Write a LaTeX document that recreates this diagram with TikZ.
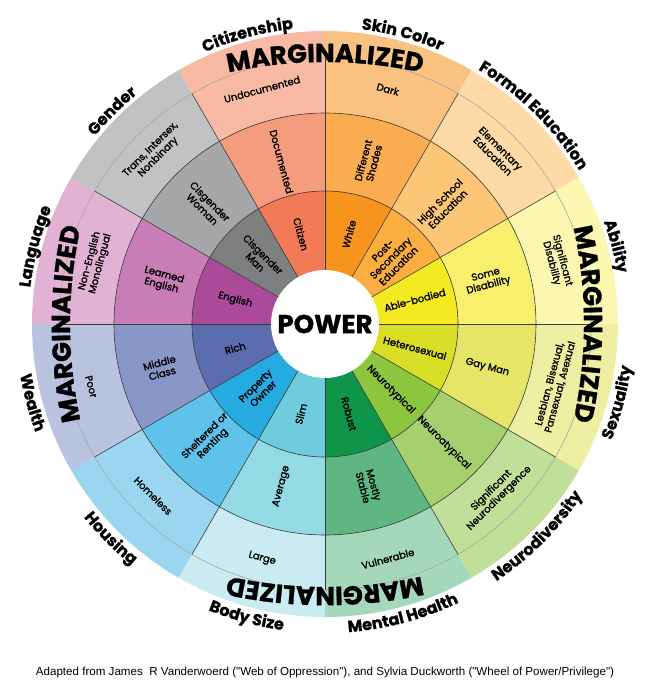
\documentclass[tikz,border=0pt]{standalone}
\usepackage{fontspec}
\setmainfont{Poppins}
\newfontfamily\labfont{Poppins}[FakeBold=1.5]
\newfontfamily\heavyfont{Poppins}[FakeBold=1]
\newfontfamily\creditfont{Liberation Sans}
\usetikzlibrary{decorations.text}

% three shades per slice: A = ring next to POWER, C = outer ring and rim band
\definecolor{citizenA}{HTML}{F37A56}
\definecolor{citizenB}{HTML}{F59B7E}
\definecolor{citizenC}{HTML}{F8BAA4}
\definecolor{skinA}{HTML}{F7941E}
\definecolor{skinB}{HTML}{F9AD50}
\definecolor{skinC}{HTML}{FAC280}
\definecolor{eduA}{HTML}{FBAE40}
\definecolor{eduB}{HTML}{FDC677}
\definecolor{eduC}{HTML}{FDDAA6}
\definecolor{abilityA}{HTML}{F3EA1F}
\definecolor{abilityB}{HTML}{F8EF6C}
\definecolor{abilityC}{HTML}{FBF7B1}
\definecolor{sexA}{HTML}{D8DE26}
\definecolor{sexB}{HTML}{E5E668}
\definecolor{sexC}{HTML}{EEEFA2}
\definecolor{neuroA}{HTML}{8CC63F}
\definecolor{neuroB}{HTML}{A5D06D}
\definecolor{neuroC}{HTML}{C1DF99}
\definecolor{mentalA}{HTML}{0E9549}
\definecolor{mentalB}{HTML}{5EB683}
\definecolor{mentalC}{HTML}{A5D7BA}
\definecolor{bodyA}{HTML}{6ECCDD}
\definecolor{bodyB}{HTML}{94DAE5}
\definecolor{bodyC}{HTML}{C9EBF1}
\definecolor{houseA}{HTML}{25AAE1}
\definecolor{houseB}{HTML}{5FC2EA}
\definecolor{houseC}{HTML}{9BD6F1}
\definecolor{wealthA}{HTML}{5C6DAF}
\definecolor{wealthB}{HTML}{8897C7}
\definecolor{wealthC}{HTML}{B9C2DF}
\definecolor{langA}{HTML}{AC4A9A}
\definecolor{langB}{HTML}{C97DB7}
\definecolor{langC}{HTML}{E1B2D4}
\definecolor{genderA}{HTML}{7E7F81}
\definecolor{genderB}{HTML}{A6A7A9}
\definecolor{genderC}{HTML}{C1C2C4}
\definecolor{rimline}{HTML}{3A3A3A}

\newcommand\margfont{\heavyfont\fontsize{26}{26}\selectfont\bfseries}
\newcommand\catfont{\heavyfont\fontsize{16}{16}\selectfont\bfseries}

\begin{document}
\begin{tikzpicture}[x=1pt,y=1pt]
  \tikzstyle{lab}=[align=center,inner sep=0pt,font=\labfont\fontsize{10}{11}\selectfont]
  \tikzstyle{rim}=[draw=rimline,line width=0.6pt]
  \tikzstyle{band}=[draw=black!35,line width=0.6pt]
  \tikzstyle{arcword}=[decorate,decoration={text along path,text align=center}]
  \useasboundingbox (-325,-373) rectangle (324,324);
  % slices, outer band first
  \foreach \ang/\cat in {105/citizen,75/skin,45/edu,15/ability,-15/sex,-45/neuro,
      -75/mental,-105/body,-135/house,-165/wealth,165/lang,135/gender}{
    \fill[\cat C] (0,0) -- ({\ang+15}:293pt) arc[start angle=\ang+15,end angle=\ang-15,radius=293pt] -- cycle;
    \fill[\cat B] (0,0) -- ({\ang+15}:211pt) arc[start angle=\ang+15,end angle=\ang-15,radius=211pt] -- cycle;
    \fill[\cat A] (0,0) -- ({\ang+15}:133pt) arc[start angle=\ang+15,end angle=\ang-15,radius=133pt] -- cycle;
  }
  \fill[white] (0,0) circle[radius=54pt];
  % ring and slice borders
  \draw[rim] (0,0) circle[radius=133pt] (0,0) circle[radius=211pt];
  \draw[band] (0,0) circle[radius=266pt];
  \foreach \a in {0,30,...,330}
    \draw[rim] (\a:54pt) -- (\a:266pt);
  \node[font=\heavyfont\fontsize{26}{26}\selectfont\bfseries] (power) at (0,0) {POWER};

  % inner ring
  \node[lab,rotate=-75] (citizen) at (105:93pt) {Citizen};
  \node[lab,rotate=75] (white) at (75:93pt) {White};
  \node[lab,rotate=45] (postsec) at (45:93pt) {Post-\\Secondary\\Education};
  \node[lab,rotate=15] (able) at (15:93pt) {Able-bodied};
  \node[lab,rotate=-15] (hetero) at (-15:93pt) {Heterosexual};
  \node[lab,rotate=-45] (neurotyp) at (-45:93pt) {Neurotypical};
  \node[lab,rotate=-75] (robust) at (-75:93pt) {Robust};
  \node[lab,rotate=75] (slim) at (-105:93pt) {Slim};
  \node[lab,rotate=45] (owner) at (-135:93pt) {Property\\Owner};
  \node[lab,rotate=15] (rich) at (-165:93pt) {Rich};
  \node[lab,rotate=-15] (english) at (165:93pt) {English};
  \node[lab,rotate=-45] (cisman) at (135:93pt) {Cisgender\\Man};

  % middle ring
  \node[lab,rotate=-75] (documented) at (105:168pt) {Documented};
  \node[lab,rotate=75] (shades) at (75:168pt) {Different\\Shades};
  \node[lab,rotate=45] (highschool) at (45:168pt) {High School\\Education};
  \node[lab,rotate=15] (somedis) at (15:168pt) {Some\\Disability};
  \node[lab,rotate=-15] (gayman) at (-15:168pt) {Gay Man};
  \node[lab,rotate=-45] (neuroatyp) at (-45:168pt) {Neuroatypical};
  \node[lab,rotate=-75] (stable) at (-75:168pt) {Mostly\\Stable};
  \node[lab,rotate=75] (average) at (-105:168pt) {Average};
  \node[lab,rotate=45] (sheltered) at (-135:164pt) {Sheltered or\\Renting};
  \node[lab,rotate=15] (middle) at (-165:170pt) {Middle\\Class};
  \node[lab,rotate=-15] (learned) at (165:168pt) {Learned\\English};
  \node[lab,rotate=-45] (ciswoman) at (135:168pt) {Cisgender\\Woman};

  % outer ring
  \node[lab,rotate=15] (undoc) at (105:243pt) {Undocumented};
  \node[lab,rotate=-15] (dark) at (75:243pt) {Dark};
  \node[lab,rotate=-45] (elementary) at (45:243pt) {Elementary\\Education};
  \node[lab,rotate=-75] (sigdis) at (15:240pt) {Significant\\Disability};
  \node[lab,rotate=75] (lgba) at (-15:238pt) {Lesbian, Bisexual,\\Pansexual, Asexual};
  \node[lab,rotate=45] (signeuro) at (-45:241pt) {Significant\\Neurodivergence};
  \node[lab,rotate=15] (vulnerable) at (-75:243pt) {Vulnerable};
  \node[lab,rotate=-15] (large) at (-105:243pt) {Large};
  \node[lab,rotate=-45] (homeless) at (-135:243pt) {Homeless};
  \node[lab,rotate=-75] (poor) at (-165:242pt) {Poor};
  \node[lab,rotate=75] (nonenglish) at (165:238pt) {Non-English\\Monolingual};
  \node[lab,rotate=45] (trans) at (135:241pt) {Trans, Intersex,\\Nonbinary};

  % MARGINALIZED on the rim band, on flatter arcs than the wheel
  \path[arcword,shift={(0pt,-188pt)},decoration={text={|\margfont|MARGINALIZED}}] (106:450pt) arc[start angle=106,end angle=74,radius=450pt];
  \path[arcword,shift={(-191pt,0pt)},decoration={text={|\margfont|MARGINALIZED}}] (16:450pt) arc[start angle=16,end angle=-16,radius=450pt];
  \path[arcword,shift={(0pt,187pt)},decoration={text={|\margfont|MARGINALIZED}}] (-74:450pt) arc[start angle=-74,end angle=-106,radius=450pt];
  \path[arcword,shift={(195pt,0pt)},decoration={text={|\margfont|MARGINALIZED}}] (196:450pt) arc[start angle=196,end angle=164,radius=450pt];

  % category names round the wheel
  \path[arcword,decoration={text={|\catfont|Citizenship}}] (145:297pt) arc[start angle=145,end angle=65,radius=297pt];
  \path[arcword,decoration={text={|\catfont|Skin Color}}] (115:297pt) arc[start angle=115,end angle=35,radius=297pt];
  \path[arcword,decoration={text={|\catfont|Formal Education}}] (85:297pt) arc[start angle=85,end angle=5,radius=297pt];
  \path[arcword,decoration={text={|\catfont|Ability}}] (55:297pt) arc[start angle=55,end angle=-25,radius=297pt];
  \path[arcword,decoration={text={|\catfont|Sexuality}}] (-55:309pt) arc[start angle=-55,end angle=25,radius=309pt];
  \path[arcword,decoration={text={|\catfont|Neurodiversity}}] (-85:309pt) arc[start angle=-85,end angle=-5,radius=309pt];
  \path[arcword,decoration={text={|\catfont|Mental Health}}] (-115:309pt) arc[start angle=-115,end angle=-35,radius=309pt];
  \path[arcword,decoration={text={|\catfont|Body Size}}] (-145:309pt) arc[start angle=-145,end angle=-65,radius=309pt];
  \path[arcword,decoration={text={|\catfont|Housing}}] (-175:309pt) arc[start angle=-175,end angle=-95,radius=309pt];
  \path[arcword,decoration={text={|\catfont|Wealth}}] (-205:309pt) arc[start angle=-205,end angle=-125,radius=309pt];
  \path[arcword,decoration={text={|\catfont|Language}}] (205:297pt) arc[start angle=205,end angle=125,radius=297pt];
  \path[arcword,decoration={text={|\catfont|Gender}}] (175:297pt) arc[start angle=175,end angle=95,radius=297pt];

  \node[font=\creditfont\fontsize{11.6}{13}\selectfont] (credit) at (0,-348) {Adapted from James\ \ R Vanderwoerd ("Web of Oppression"), and Sylvia Duckworth ("Wheel of Power/Privilege")};
\end{tikzpicture}
\end{document}
